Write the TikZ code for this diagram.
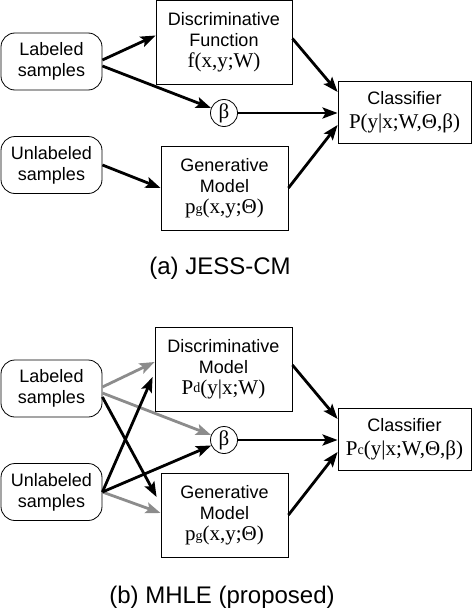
\documentclass[tikz,border=0pt]{standalone}
\usepackage{fontspec}
\setmainfont{Liberation Sans}
\newfontfamily\formfont{Liberation Serif}
\usetikzlibrary{arrows.meta}
\definecolor{fainttone}{gray}{0.55}
\newcommand{\formtext}[1]{{\formfont\fontsize{21}{21}\selectfont #1}}
\newcommand{\lowletter}[2]{\raisebox{#1}{\fontsize{14}{14}\selectfont #2}}
\tikzset{
  sample/.style={draw, line width=0.8pt, rounded corners=14pt, minimum width=101pt, minimum height=57pt, inner sep=0pt, align=center, font=\fontsize{18}{21}\selectfont},
  block/.style={draw, line width=0.8pt, minimum height=84pt, inner sep=0pt, align=center, font=\fontsize{18}{21}\selectfont},
  weight/.style={draw, line width=0.8pt, circle, minimum size=27pt, inner sep=0pt, font=\formfont\fontsize{21}{21}\selectfont},
  link/.style={line width=2.8pt, -{Stealth[length=15pt,width=11pt,inset=3pt]}},
  faint/.style={link, fainttone},
  caption/.style={font=\fontsize{24}{24}\selectfont}
}
\begin{document}
\begin{tikzpicture}[x=1pt,y=-1pt]
\useasboundingbox (0,0) rectangle (472,610);
% (a) JESS-CM
\node[sample] (laba) at (51.5,61.5) {Labeled\\samples};
\node[sample] (unla) at (51.5,165) {Unlabeled\\samples};
\node[block, minimum width=136pt] (disca) at (224,42.5) {Discriminative\\Function\\\formtext{f(x,y;W)}};
\node[weight] (betaa) at (224,113) {β};
\node[block, minimum width=127pt] (gena) at (224.5,188) {Generative\\Model\\\formtext{p\lowletter{0pt}{g}(x,y;Θ)}};
\node[block, minimum width=133pt, minimum height=62pt] (clsa) at (404.5,112) {Classifier\\[3pt]\formtext{P(y|x;W,Θ,β)}};
\node[caption] (capa) at (220,268) {(a) JESS-CM};
\draw[link] ([yshift=1.5pt]laba.east) -- ([yshift=7pt]disca.west);
\draw[link] ([yshift=-4.5pt]laba.east) -- (betaa);
\draw[link] (unla.east) -- (gena.west);
\draw[link] ([yshift=4pt]disca.east) -- ([yshift=20pt]clsa.west);
\draw[link] (betaa) -- (betaa -| clsa.west);
\draw[link] (gena.east) -- ([yshift=-13pt]clsa.west);
% (b) MHLE
\node[sample] (labb) at (51.5,388.5) {Labeled\\samples};
\node[sample] (unlb) at (51.5,492) {Unlabeled\\samples};
\node[block, minimum width=137pt] (discb) at (223.5,369) {Discriminative\\Model\\\formtext{P\lowletter{2pt}{d}(y|x;W)}};
\node[weight] (betab) at (224,440) {β};
\node[block, minimum width=127pt] (genb) at (224.5,515) {Generative\\Model\\\formtext{p\lowletter{0pt}{g}(x,y;Θ)}};
\node[block, minimum width=133pt, minimum height=62pt] (clsb) at (404.5,439) {Classifier\\[3pt]\formtext{P\lowletter{1pt}{c}(y|x;W,Θ,β)}};
\node[caption] (capb) at (222,597) {(b) MHLE (proposed)};
\draw[faint] ([yshift=1.5pt]labb.east) -- ([yshift=7pt]discb.west);
\draw[faint] ([yshift=-4.5pt]labb.east) -- (betab);
\draw[faint] (unlb.east) -- ([yshift=2pt]genb.west);
\draw[link] ([yshift=-8.5pt]labb.east) -- ([shift={(-4pt,18pt)}]genb.west);
\draw[link] (unlb.east) -- ([shift={(-2pt,-8pt)}]discb.west);
\draw[link] (unlb.east) -- (betab);
\draw[link] ([yshift=4pt]discb.east) -- ([yshift=20pt]clsb.west);
\draw[link] (betab) -- (betab -| clsb.west);
\draw[link] (genb.east) -- ([yshift=-13pt]clsb.west);
\end{tikzpicture}
\end{document}
